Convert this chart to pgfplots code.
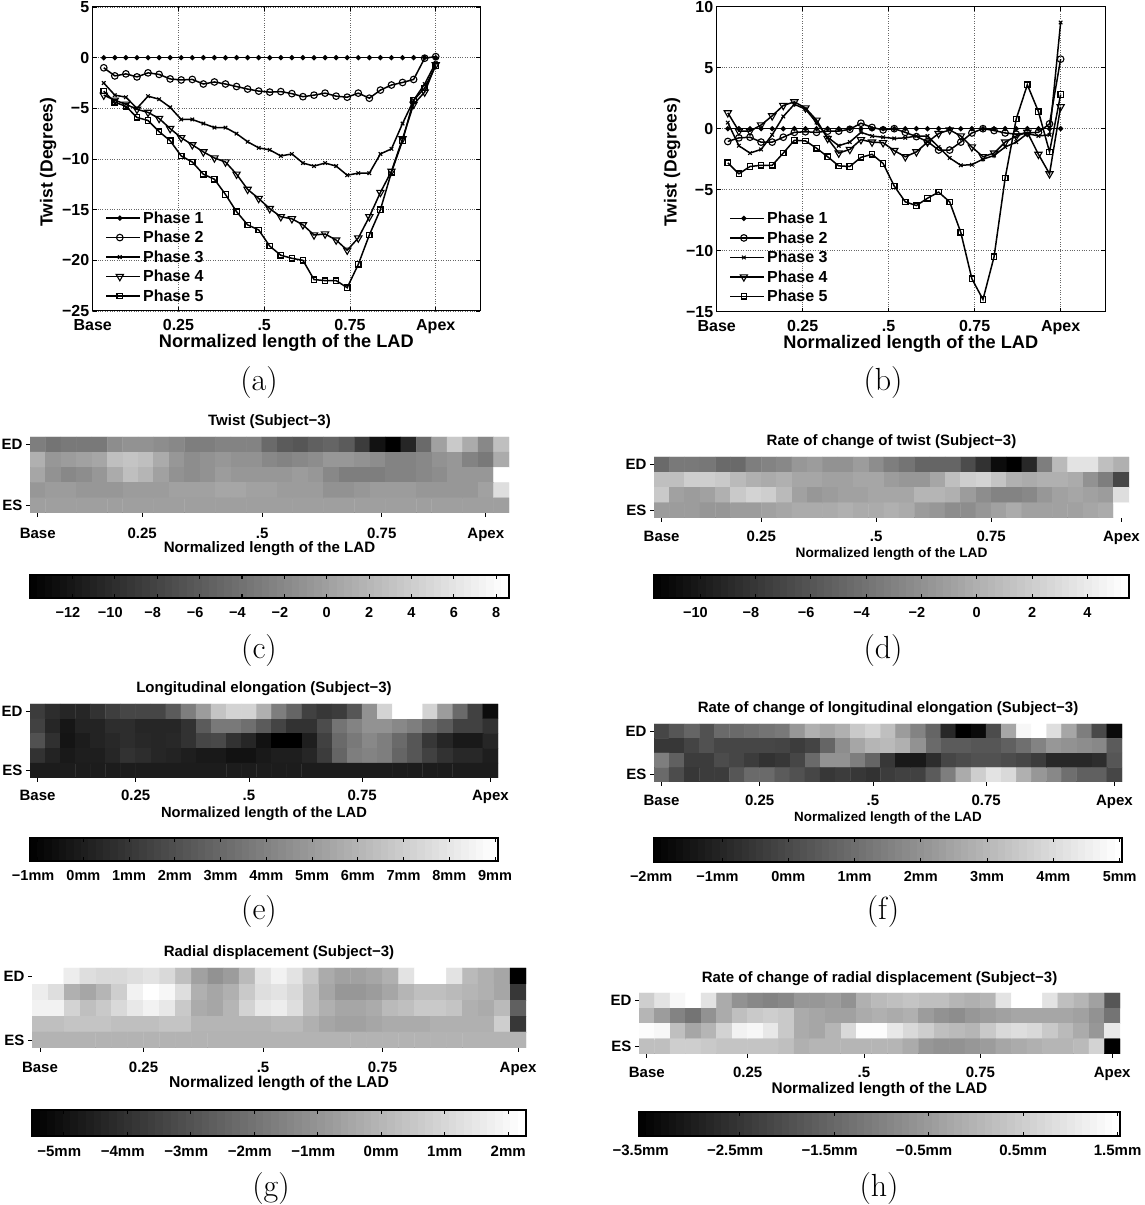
\documentclass[border=0pt]{standalone}
\usepackage{fontspec}
\usepackage{pgfplots}
\pgfplotsset{compat=1.18}
\newfontfamily\hv{Liberation Sans}
\newcommand\fs[1]{\hv\bfseries\fontsize{#1}{#1}\selectfont}
\newcommand\m[1]{−#1\kern9pt}
\pgfplotsset{
  lineax/.style={scale only axis, anchor=south west, xmin=0, xmax=35,
    xtick={0,7.75,15.5,23.25,31}, xticklabels={Base,0.25,.5,0.75,Apex},
    grid=major, grid style={dotted, black!60, line width=0.7pt},
    tick align=inside, major tick length=4pt, axis line style={line width=1pt}, tick style={line width=0.8pt,black},
    tick label style={font=\fs{16}},
    xticklabel style={anchor=base, yshift=-19.5pt},
    xlabel={Normalized length of the LAD}, ylabel={Twist (Degrees)},
    xlabel style={font=\fs{18.2}, at={(axis description cs:0.5,0)}, anchor=base, yshift=-37pt},
    ylabel style={font=\fs{17.5}, at={(axis description cs:-0.115,0.49)}, anchor=center},
    legend cell align=left,
    legend style={draw=none, fill=none, at={(0.025,0.345)}, anchor=north west, font=\fs{16}, row sep=0pt,
      nodes={inner ysep=1pt, text height=14pt, text depth=3.5pt}},
    legend image code/.code={\draw[mark repeat=2,mark phase=2,#1] plot coordinates {(0pt,0pt)(13.5pt,0pt)(27pt,0pt)};\path (0pt,0pt)--(34pt,0pt);},
  },
  p1/.style={mark=*, mark size=1.8pt, mark options={solid,fill=black}},
  p2/.style={mark=o, mark size=3.3pt, mark options={solid,line width=1.1pt}},
  p3/.style={mark=x, mark size=2.5pt, mark options={solid,line width=1.1pt}},
  p4/.style={mark=triangle, mark size=4.2pt, mark options={solid,line width=1.1pt,rotate=180}},
  p5/.style={mark=square, mark size=2.7pt, mark options={solid,line width=1.3pt}},
  heatax/.style n args={3}{scale only axis, anchor=south west,
    axis x line*=bottom, axis y line*=left, axis line style={-,line width=1pt},
    xmin=0.5, xmax=31.5, ymin=0.5, ymax=#1+0.5, ytick={1,#1}, yticklabels={ES,ED},
    xticklabels={Base,0.25,.5,0.75,Apex},
    tick align=outside, major tick length=4pt, tick style={line width=0.8pt,black},
    tick label style={font=\fs{15}},
    xticklabel style={anchor=base, yshift=-#2pt},
    xlabel={Normalized length of the LAD},
    xlabel style={font=\fs{#3}, at={(axis description cs:0.5,0)}, anchor=base, yshift=-39.5pt},
    title style={font=\fs{15}, at={(axis description cs:0.5,1)}, anchor=base, yshift=5pt},
    colormap/blackwhite,
  },
  cb/.style n args={3}{colorbar horizontal, colorbar sampled,
    colorbar style={at={(0,#1)}, anchor=north west, height=#2pt,
      samples=65, ytick=\empty, xticklabel pos=lower, axis line style={line width=1.2pt},
      tick label style={font=\fs{#3}},
      xticklabel style={anchor=base, yshift=-20pt}}},
}
\newcommand\heat[4]{\addplot[matrix plot*, mesh/cols=31, mesh/rows=#1,
   point meta={#2+\thisrowno{0}/255*(#3-(#2))}] table[header=false, row sep=\\,
   x expr={mod(\coordindex,31)+1}, y expr={#1-floor(\coordindex/31)}] {#4};}
\newcommand\series[2]{\addplot[black, line width=1.5pt, #1] table[header=false, row sep=\\, x expr={\coordindex+1}, y index=0] {#2};}
% inward tick marks over a colour bar: left, bottom, width, height, min, max, ticks
\newcommand\cbticks[7]{\begin{axis}[scale only axis, anchor=south west, at={(#1pt,#2pt)}, width=#3pt, height=#4pt,
   xmin=#5, xmax=#6, ymin=0, ymax=1, ytick=\empty, xtick={#7}, xticklabels={},
   tick align=inside, xtick pos=both, major tick length=4pt,
   xtick style={black,line width=0.9pt}, axis line style={line width=1.2pt}]
 \end{axis}}
\begin{document}
\begin{tikzpicture}[x=1pt,y=1pt]
\useasboundingbox (0,0) rectangle (1145,1205);
% (a)
\begin{axis}[lineax, at={(92.7pt,894pt)}, width=387.3pt, height=304pt, ymin=-25, ymax=5,
  ytick={-25,-20,-15,-10,-5,0,5}, yticklabels={−25,−20,−15,−10,−5,0,5}]
\series{p1}{0\\0\\0\\0\\0\\0\\0\\0\\0\\0\\0\\0\\0\\0\\0\\0\\0\\0\\0\\0\\0\\0\\0\\0\\0\\0\\0\\0\\0\\0\\0\\}
\series{p2}{-1.0\\-1.8\\-1.6\\-1.9\\-1.5\\-1.65\\-2.1\\-2.2\\-2.15\\-2.6\\-2.4\\-2.6\\-2.85\\-3.1\\-3.3\\-3.4\\-3.35\\-3.55\\-3.85\\-3.7\\-3.5\\-3.8\\-3.9\\-3.5\\-4.0\\-3.2\\-2.7\\-2.45\\-2.15\\-0.05\\0.1\\}
\series{p3}{-2.5\\-3.7\\-3.9\\-5.0\\-3.8\\-4.1\\-4.9\\-6.1\\-6.1\\-6.5\\-6.9\\-6.9\\-7.5\\-8.3\\-8.9\\-9.1\\-9.7\\-9.5\\-10.4\\-10.7\\-10.4\\-10.7\\-11.6\\-11.4\\-11.4\\-9.5\\-9.0\\-6.5\\-4.2\\-2.6\\-0.5\\}
\series{p4}{-3.7\\-4.2\\-4.6\\-5.1\\-5.4\\-6.0\\-7.0\\-7.9\\-8.6\\-9.3\\-9.9\\-10.3\\-11.5\\-13.0\\-13.9\\-14.9\\-15.7\\-15.9\\-16.5\\-17.5\\-17.4\\-18.0\\-19.0\\-17.8\\-15.7\\-13.3\\-11.2\\-8.0\\-4.6\\-3.4\\-0.7\\}
\series{p5}{-3.3\\-4.4\\-4.8\\-5.9\\-6.2\\-7.3\\-8.2\\-9.7\\-10.3\\-11.5\\-12.0\\-13.5\\-15.2\\-16.5\\-17.0\\-18.6\\-19.5\\-19.8\\-20.0\\-21.9\\-22.0\\-22.0\\-22.7\\-20.4\\-17.5\\-15.0\\-11.3\\-8.2\\-4.2\\-3.0\\-0.8\\}
\legend{Phase 1,Phase 2,Phase 3,Phase 4,Phase 5}
\end{axis}
% (b)
\begin{axis}[lineax, at={(716.7pt,893.3pt)}, width=388.3pt, height=305pt, ymin=-15, ymax=10,
  ytick={-15,-10,-5,0,5,10}, yticklabels={−15,−10,−5,0,5,10}]
\series{p1}{0\\0\\0\\0\\0\\0\\0\\0\\0\\0\\0\\0\\0\\0\\0\\0\\0\\0\\0\\0\\0\\0\\0\\0\\0\\0\\0\\0\\0\\0\\0\\}
\series{p2}{-1.05\\-0.75\\-0.7\\-1.1\\-1.1\\-0.7\\-0.3\\-0.25\\-0.3\\-0.2\\-0.2\\-0.05\\0.45\\0.1\\-0.1\\0\\-0.3\\-0.65\\-1.05\\-1.75\\-1.75\\-1.1\\-0.35\\0\\-0.15\\-0.35\\-0.45\\-0.35\\-0.3\\0.4\\5.7\\}
\series{p3}{0.5\\-1.4\\-2.0\\-1.7\\-0.5\\1.0\\2.0\\1.6\\0.5\\-0.7\\-1.4\\-1.1\\-0.3\\-0.6\\-0.7\\-0.8\\-0.75\\-0.6\\-0.6\\-1.5\\-2.4\\-3.0\\-2.95\\-2.5\\-2.2\\-1.5\\-1.1\\-0.4\\-0.6\\-0.5\\8.7\\}
\series{p4}{1.3\\-0.2\\-0.2\\0.3\\1.05\\1.9\\2.2\\1.7\\0.7\\-0.8\\-2.0\\-1.7\\-0.9\\-1.1\\-1.15\\-1.8\\-2.3\\-1.9\\-1.1\\-0.4\\-0.1\\-0.6\\-1.5\\-2.3\\-2.0\\-1.1\\-0.6\\-0.3\\-2.1\\-3.7\\1.8\\}
\series{p5}{-2.8\\-3.7\\-3.1\\-3.0\\-3.0\\-2.0\\-0.95\\-1.0\\-1.6\\-2.3\\-3.05\\-3.1\\-2.35\\-2.1\\-2.85\\-4.7\\-6.0\\-6.3\\-5.7\\-5.2\\-6.0\\-8.5\\-12.3\\-14.0\\-10.5\\-4.05\\0.8\\3.6\\1.4\\-1.9\\2.8\\}
\legend{Phase 1,Phase 2,Phase 3,Phase 4,Phase 5}
\end{axis}
% (c)
\begin{axis}[heatax={5}{22}{15.1}, at={(30pt,692pt)}, width=479pt, height=76pt,
  title={Twist (Subject−3)}, xtick={1,7.76,15.53,23.27,30},
  point meta min=-14, point meta max=8.6,
  cb={-0.8158}{23}{14.5}, colorbar style={xtick={-12,-10,-8,-6,-4,-2,0,2,4,6,8},
  xticklabels={\m{12},\m{10},\m{8},\m{6},\m{4},\m{2},0,2,4,6,8}}]
\heat{5}{-14}{8.6}{125\\115\\120\\120\\120\\140\\145\\145\\140\\135\\125\\125\\130\\130\\130\\105\\90\\85\\95\\100\\90\\60\\18\\0\\38\\105\\160\\200\\170\\135\\190\\
175\\150\\155\\160\\165\\190\\195\\190\\170\\150\\140\\145\\150\\145\\145\\135\\130\\135\\140\\150\\150\\145\\140\\130\\130\\135\\145\\150\\130\\120\\170\\
165\\145\\135\\140\\150\\170\\190\\180\\160\\145\\140\\145\\155\\150\\150\\150\\150\\155\\150\\135\\125\\125\\125\\130\\130\\135\\140\\150\\150\\150\\255\\
150\\155\\155\\150\\150\\150\\155\\155\\155\\160\\160\\160\\165\\165\\160\\160\\155\\155\\155\\145\\145\\150\\155\\155\\155\\150\\150\\150\\150\\160\\220\\
158\\158\\158\\158\\158\\158\\158\\158\\158\\158\\158\\158\\158\\158\\158\\158\\158\\158\\158\\158\\158\\158\\158\\158\\158\\158\\158\\158\\158\\158\\158\\}
\end{axis}
\cbticks{30}{607}{479}{23}{-14}{8.6}{-12,-10,-8,-6,-4,-2,0,2,4,6,8}
% (d)
\begin{axis}[heatax={4}{20}{13.7}, at={(654pt,687pt)}, width=475pt, height=61pt,
  title={Rate of change of twist (Subject−3)}, xtick={1,7.5,15,22.5,31},
  point meta min=-11.66, point meta max=5.5,
  cb={-0.9344}{23}{14.5}, colorbar style={xtick={-10,-8,-6,-4,-2,0,2,4},
  xticklabels={\m{10},\m{8},\m{6},\m{4},\m{2},0,2,4}}]
\heat{4}{-11.66}{5.5}{105\\120\\120\\118\\105\\105\\125\\130\\135\\150\\155\\145\\145\\155\\140\\125\\115\\100\\100\\100\\75\\50\\12\\0\\40\\125\\185\\225\\225\\190\\175\\
190\\190\\205\\205\\200\\185\\175\\170\\175\\165\\165\\160\\160\\165\\165\\155\\150\\150\\165\\190\\205\\210\\195\\175\\170\\175\\175\\170\\145\\125\\70\\
200\\160\\155\\160\\175\\200\\210\\205\\185\\160\\150\\155\\160\\160\\165\\165\\165\\180\\180\\175\\155\\140\\130\\130\\135\\150\\160\\165\\160\\155\\220\\
155\\155\\155\\150\\150\\155\\155\\160\\165\\170\\170\\170\\175\\170\\170\\175\\170\\155\\150\\140\\140\\150\\160\\170\\160\\160\\160\\160\\165\\170\\255\\}
\end{axis}
\cbticks{654}{607}{475}{23}{-11.66}{5.5}{-10,-8,-6,-4,-2,0,2,4}
% (e)
\begin{axis}[heatax={5}{19}{14.7}, at={(30pt,427pt)}, width=468pt, height=74pt,
  title={Longitudinal elongation (Subject−3)}, xtick={1,7.5,15,22.5,31},
  point meta min=-1.167, point meta max=9.066,
  cb={-0.8108}{23}{14.5}, colorbar style={xtick={-1,0,1,2,3,4,5,6,7,8,9},
  xticklabels={\m{1mm},0mm,1mm,2mm,3mm,4mm,5mm,6mm,7mm,8mm,9mm}}]
\heat{5}{-1.167}{9.066}{60\\45\\38\\38\\50\\62\\70\\70\\70\\90\\125\\155\\195\\210\\210\\175\\125\\100\\65\\55\\60\\85\\145\\210\\255\\255\\210\\155\\105\\65\\12\\
65\\38\\22\\35\\35\\45\\45\\38\\38\\38\\50\\90\\120\\120\\110\\90\\68\\50\\50\\75\\115\\130\\145\\145\\135\\125\\105\\90\\65\\65\\50\\
80\\48\\20\\28\\35\\40\\45\\40\\38\\40\\50\\70\\72\\50\\38\\18\\0\\0\\30\\65\\105\\120\\135\\125\\105\\85\\55\\38\\25\\25\\38\\
50\\35\\25\\30\\30\\38\\50\\45\\38\\35\\30\\25\\25\\18\\18\\25\\30\\30\\38\\60\\100\\125\\130\\125\\100\\85\\65\\50\\40\\40\\30\\
28\\28\\28\\28\\28\\28\\28\\28\\28\\28\\28\\28\\28\\28\\28\\28\\28\\28\\28\\28\\28\\28\\28\\28\\28\\28\\28\\28\\28\\28\\28\\}
\end{axis}
\cbticks{30}{344}{468}{23}{-1.167}{9.066}{-1,0,1,2,3,4,5,6,7,8,9}
% (f)
\begin{axis}[heatax={4}{20}{13.4}, at={(654pt,423pt)}, width=468pt, height=58pt,
  title={Rate of change of longitudinal elongation (Subject−3)}, xtick={1,7.5,15,22.5,31},
  point meta min=-2.025, point meta max=5.035,
  cb={-0.9655}{24}{14.5}, colorbar style={xtick={-2,-1,0,1,2,3,4,5},
  xticklabels={\m{2mm},\m{1mm},0mm,1mm,2mm,3mm,4mm,5mm}}]
\heat{4}{-2.025}{5.035}{70\\85\\100\\80\\105\\105\\110\\115\\120\\150\\175\\165\\175\\200\\210\\190\\155\\130\\100\\40\\0\\10\\75\\165\\245\\255\\220\\165\\125\\72\\10\\
55\\55\\68\\80\\70\\70\\70\\70\\68\\60\\68\\100\\140\\165\\180\\185\\175\\145\\105\\90\\90\\85\\85\\95\\110\\130\\150\\145\\140\\135\\90\\
125\\95\\60\\60\\75\\70\\60\\50\\55\\70\\105\\145\\145\\125\\100\\55\\25\\25\\45\\70\\75\\80\\80\\75\\70\\60\\40\\40\\40\\45\\85\\
105\\75\\55\\60\\60\\85\\105\\105\\90\\80\\70\\55\\60\\55\\50\\60\\65\\65\\90\\125\\170\\205\\225\\215\\175\\150\\135\\110\\95\\95\\70\\}
\end{axis}
\cbticks{654}{343}{468}{24}{-2.025}{5.035}{-2,-1,0,1,2,3,4,5}
% (g)
\begin{axis}[heatax={5}{20}{15.7}, at={(32pt,157pt)}, width=494pt, height=80pt,
  title={Radial displacement (Subject−3)}, xtick={1,7.5,15,22.5,31},
  point meta min=-5.5, point meta max=2.28,
  cb={-0.775}{26}{15}, colorbar style={xtick={-5,-4,-3,-2,-1,0,1,2},
  xticklabels={\m{5mm},\m{4mm},\m{3mm},\m{2mm},\m{1mm},0mm,1mm,2mm}}]
\heat{5}{-5.5}{2.28}{255\\255\\235\\220\\215\\215\\220\\225\\215\\190\\160\\145\\155\\185\\225\\240\\225\\200\\170\\160\\160\\165\\175\\225\\255\\255\\225\\185\\175\\165\\0\\
235\\220\\175\\165\\180\\205\\240\\255\\245\\220\\175\\165\\175\\200\\220\\225\\215\\190\\165\\150\\150\\155\\165\\180\\190\\190\\185\\180\\175\\165\\55\\
240\\240\\210\\190\\200\\215\\230\\240\\230\\200\\170\\165\\180\\210\\230\\235\\220\\190\\175\\165\\165\\170\\185\\190\\200\\200\\195\\175\\170\\185\\95\\
190\\190\\195\\195\\195\\190\\190\\190\\195\\195\\180\\180\\180\\180\\180\\185\\185\\175\\165\\160\\160\\165\\170\\170\\170\\175\\175\\175\\175\\205\\55\\
178\\178\\178\\178\\178\\178\\178\\178\\178\\178\\178\\178\\178\\178\\178\\178\\178\\178\\178\\178\\178\\178\\178\\178\\178\\178\\178\\178\\178\\178\\178\\}
\end{axis}
\cbticks{32}{69}{494}{26}{-5.5}{2.28}{-5,-4,-3,-2,-1,0,1,2}
% (h)
\begin{axis}[heatax={4}{20}{15.4}, at={(639pt,151pt)}, width=481pt, height=61pt,
  title={Rate of change of radial displacement (Subject−3)}, xtick={1,7.5,15,22.5,31},
  point meta min=-3.565, point meta max=1.525,
  cb={-0.9508}{24}{15}, colorbar style={xtick={-3.5,-2.5,-1.5,-0.5,0.5,1.5},
  xticklabels={\m{3.5mm},\m{2.5mm},\m{1.5mm},\m{0.5mm},0.5mm,1.5mm}}]
\heat{4}{-3.565}{1.525}{205\\225\\245\\255\\225\\170\\145\\135\\130\\135\\150\\150\\155\\145\\175\\185\\190\\195\\190\\190\\180\\175\\180\\225\\255\\255\\225\\190\\180\\160\\85\\
180\\155\\130\\115\\145\\170\\190\\200\\205\\200\\170\\165\\160\\160\\170\\175\\170\\175\\155\\145\\140\\150\\155\\160\\165\\165\\165\\165\\160\\145\\115\\
250\\245\\190\\165\\180\\210\\240\\245\\230\\200\\170\\165\\180\\215\\250\\250\\230\\215\\205\\190\\185\\180\\200\\215\\220\\215\\200\\185\\170\\150\\230\\
190\\190\\205\\205\\200\\195\\195\\195\\195\\190\\175\\180\\180\\180\\180\\180\\180\\170\\150\\145\\145\\150\\155\\165\\170\\175\\180\\180\\185\\210\\0\\}
\end{axis}
\cbticks{639}{69}{481}{24}{-3.565}{1.525}{-3.5,-2.5,-1.5,-0.5,0.5,1.5}
% captions
\begin{scope}[every node/.style={font=\fontsize{32}{32}\selectfont, inner sep=0pt}]
\node at (259,822) {(a)};
\node at (883,822) {(b)};
\node at (259,554) {(c)};
\node at (883,554) {(d)};
\node at (259,293) {(e)};
\node at (883,293) {(f)};
\node at (271,16) {(g)};
\node at (879,16) {(h)};
\end{scope}
\end{tikzpicture}
\end{document}
